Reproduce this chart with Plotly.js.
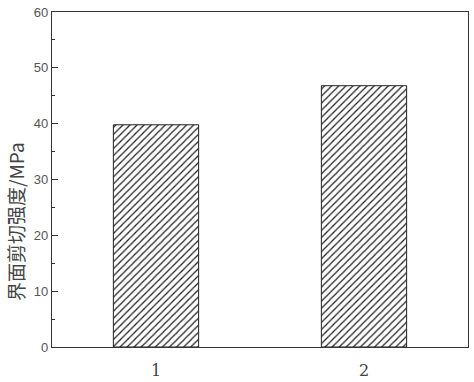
<!DOCTYPE html>
<html><head><meta charset="utf-8">
<script src="https://cdn.plot.ly/plotly-3.0.1.min.js"></script>
<style>body{margin:0;background:#fff}</style>
</head><body><div id="chart" style="width:474px;height:382px"></div>
<script>
const categories = [1, 2];
const values = [39.8, 46.8];
const tickLabels = ['1', '2'];
const yTitle = '界面剪切强度/MPa';

Plotly.newPlot('chart', [{
  type: 'bar',
  x: categories,
  y: values,
  width: 0.41,
  marker: {
    color: '#ffffff',
    line: {color: '#222', width: 1},
    pattern: {shape: '/', fgcolor: '#222', bgcolor: '#ffffff', size: 5, solidity: 0.25}
  },
  showlegend: false
}], {
  width: 474, height: 382,
  margin: {l: 52, r: 6, t: 12, b: 35},
  paper_bgcolor: '#fff', plot_bgcolor: '#fff',
  xaxis: {
    range: [0.5, 2.5], tickvals: categories, ticktext: tickLabels,
    ticks: '', showgrid: false, zeroline: false,
    showline: true, mirror: true, linecolor: '#333', linewidth: 1.2,
    tickfont: {family: 'DejaVu Serif, serif', size: 16, color: '#444'},
    ticklabelstandoff: 9
  },
  yaxis: {
    range: [0, 60], tickvals: [0,10,20,30,40,50,60],
    ticks: 'inside', ticklen: 6, tickcolor: '#333',
    minor: {tickvals: [5,15,25,35,45,55], ticks: 'inside', ticklen: 3, tickcolor: '#333'},
    showgrid: false, zeroline: false,
    showline: true, mirror: true, linecolor: '#333', linewidth: 1.2,
    tickfont: {family: 'Liberation Sans, Arial, sans-serif', size: 13, color: '#555'}
  },
  annotations: [{
    text: yTitle, textangle: -90, showarrow: false,
    xref: 'paper', yref: 'paper', x: -0.089, y: 0.376,
    xanchor: 'center', yanchor: 'middle',
    font: {family: 'Noto Sans CJK SC, sans-serif', size: 19, color: '#444'}
  }]
}, {displayModeBar: false, staticPlot: true});
</script></body></html>
